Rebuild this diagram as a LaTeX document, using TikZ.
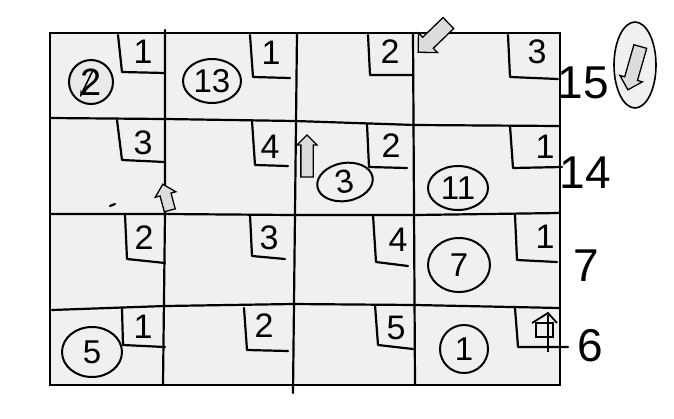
\documentclass[tikz,border=0pt]{standalone}
\usepackage{fontspec}
\setmainfont{Liberation Sans}
\usetikzlibrary{shapes,arrows,arrows.meta,positioning}
\definecolor{paper}{HTML}{F0F0F0}
\definecolor{shade}{HTML}{DCDCDC}

\begin{document}
\begin{tikzpicture}[x=1pt, y=-1pt]
  \tikzstyle{pen}=[line width=2.2pt, line cap=round, line join=round]
  \tikzstyle{digit}=[font=\fontsize{34}{34}\selectfont, inner sep=0pt]
  \tikzstyle{side}=[font=\fontsize{46}{46}\selectfont, inner sep=0pt]
  \tikzstyle{ring}=[ellipse, draw, line width=2pt, inner sep=0pt, font=\fontsize{33}{33}\selectfont]
  \tikzstyle{blockarrow}=[single arrow, draw, fill=shade, line width=1.3pt, inner xsep=0pt, single arrow head extend=4pt]

  \useasboundingbox (0,0) rectangle (674,418);

  % Tablero
  \draw[fill=paper, line width=1.5pt] (50,33) rectangle (560,385);
  \draw[pen] (50,118) -- (165,119) -- (295,121) -- (415,125) -- (560,126);
  \draw[pen] (50,214) -- (165,214) -- (293,215) -- (415,215) -- (560,213);
  \draw[pen] (52,310) -- (165,306) -- (293,304) -- (415,305) -- (560,308);
  \draw[pen] (165,30) -- (165,213) -- (163,385);
  \draw[pen] (297,33) -- (295,213) -- (293,393);
  \draw[pen] (413,33) -- (415,385);

  % Casillas de cada celda
  \draw[pen] (118,35) -- (122,72) -- (165,73);
  \draw[pen] (250,35) -- (253,77) -- (290,78);
  \draw[pen] (368,35) -- (370,75) -- (413,75);
  \draw[pen] (508,35) -- (510,77) -- (558,79);
  \draw[pen] (117,120) -- (122,160) -- (165,162);
  \draw[pen] (252,121) -- (255,165) -- (288,166);
  \draw[pen] (367,124) -- (369,167) -- (407,168);
  \draw[pen] (510,126) -- (513,168) -- (562,167);
  \draw[pen] (125,215) -- (127,259) -- (165,263);
  \draw[pen] (250,215) -- (252,256) -- (285,259);
  \draw[pen] (373,215) -- (376,262) -- (408,266);
  \draw[pen] (515,215) -- (517,260) -- (557,262);
  \draw[pen] (122,309) -- (123,345) -- (165,347);
  \draw[pen] (244,308) -- (247,350) -- (288,351);
  \draw[pen] (375,305) -- (378,345) -- (413,349);

  \node[digit] (n11) at (143,52) {1};
  \node[digit] (n12) at (271,53) {1};
  \node[digit] (n13) at (390,52) {2};
  \node[digit] (n14) at (537,52) {3};
  \node[digit] (n21) at (143,143) {3};
  \node[digit] (n22) at (270,147) {4};
  \node[digit] (n23) at (391,146) {2};
  \node[digit] (n24) at (545,147) {1};
  \node[digit] (n31) at (144,238) {2};
  \node[digit] (n32) at (269,238) {3};
  \node[digit] (n33) at (398,240) {4};
  \node[digit] (n34) at (545,237) {1};
  \node[digit] (n41) at (143,327) {1};
  \node[digit] (n42) at (264,326) {2};
  \node[digit] (n43) at (396,328) {5};

  % Circulos
  \node[ring, fill=shade!60, minimum width=44pt, minimum height=44pt, font=\fontsize{38}{38}\selectfont] (start) at (91,82) {2};
  \draw[line width=1.6pt, -{Stealth[length=7pt]}] (93,70) -- (80,97);
  \node[ring, minimum width=58pt, minimum height=44pt] (r13) at (212,81) {13};
  \node[ring, rotate=10, minimum width=56pt, minimum height=38pt] (r3) at (345,182) {3};
  \node[ring, minimum width=60pt, minimum height=44pt] (r11) at (458,188) {11};
  \node[ring, minimum width=62pt, minimum height=54pt] (r7) at (459,265) {7};
  \node[ring, minimum width=48pt, minimum height=48pt] (r1) at (464,349) {1};
  \node[ring, minimum width=60pt, minimum height=50pt] (r5) at (92,352) {5};

  % Flechas
  \node[blockarrow, rotate=90, minimum height=42pt, inner ysep=5.5pt] (up) at (307,159) {};
  \node[blockarrow, rotate=105, minimum height=27pt, inner ysep=5pt, single arrow head extend=5pt] (small) at (167,200) {};
  \node[blockarrow, rotate=224, minimum height=42pt, inner ysep=7pt, single arrow head extend=6pt] (enter) at (436,35) {};
  \node[ring, fill=paper, line width=1.6pt, minimum width=42pt, minimum height=86pt] (exit) at (635,65) {};
  \node[blockarrow, rotate=254, minimum height=45pt, inner ysep=6pt, single arrow head extend=5pt] (down) at (exit) {};
  \draw[pen] (110,206) -- (115,204);

  % Casa
  \draw[line width=1.8pt] (532,323) -- (548,313) -- (557,323);
  \draw[line width=1.8pt] (536,323) rectangle (553,337);
  \draw[line width=1.8pt] (548,315) -- (548,352);
  \draw[pen] (515,308) -- (518,347) -- (568,347);

  % Etiquetas laterales
  \node[side] (s15) at (583,83) {15};
  \node[side] (s14) at (585,173) {14};
  \node[side] (s7) at (586,266) {7};
  \node[side] (s6) at (590,346) {6};
\end{tikzpicture}
\end{document}
